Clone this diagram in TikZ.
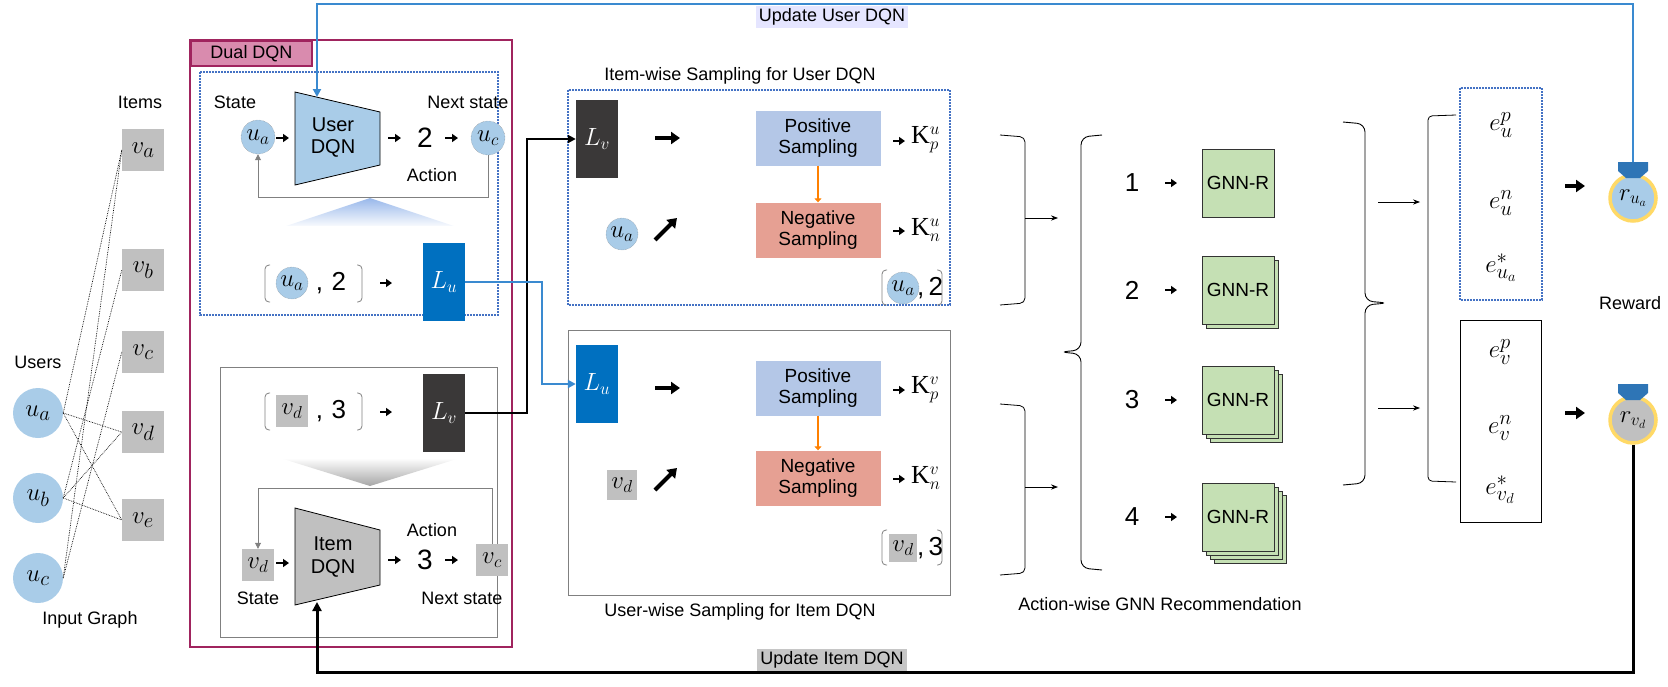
\documentclass[tikz,border=0pt]{standalone}
\usepackage{fontspec}
\setmainfont{Liberation Sans}
\newfontfamily\serifK{Liberation Serif}
\usetikzlibrary{arrows.meta,shapes.geometric}
\definecolor{ublue}{HTML}{A9CCE8}
\definecolor{igray}{HTML}{C0C0C0}
\definecolor{dotb}{HTML}{4472C4}
\definecolor{crim}{HTML}{A0245E}
\definecolor{pinkf}{HTML}{D98BAE}
\definecolor{lub}{HTML}{0070C0}
\definecolor{lvb}{HTML}{3A3838}
\definecolor{posf}{HTML}{B4C7E7}
\definecolor{negf}{HTML}{E6A093}
\definecolor{gnnf}{HTML}{C5E0B4}
\definecolor{linkb}{HTML}{3A8AD0}
\definecolor{medb}{HTML}{2E75B6}
\definecolor{medy}{HTML}{FFD966}
\newcommand{\Kmk}[2]{{\serifK K}$_{#1}^{#2}$}
\begin{document}
\begin{tikzpicture}[x=1pt,y=-1pt,
 every node/.style={font=\fontsize{18}{20}\selectfont},
 ucirc/.style={circle,fill=ublue,draw=gray,densely dotted,inner sep=0pt,minimum size=#1},
 ibox/.style={fill=igray,inner sep=0pt,minimum size=#1},
 sarr/.style={line width=2.5pt,-{Triangle[length=6pt,width=8pt]}},
 barr/.style={line width=4pt,-{Triangle[length=9pt,width=12pt]}},
 thin arr/.style={-{Stealth[length=7pt]},line width=0.8pt},
 samp/.style={minimum width=125pt,minimum height=55pt,align=center,inner sep=0pt,font=\fontsize{19}{21}\selectfont},
 gnn/.style={draw=black!80,fill=gnnf,minimum width=72pt,minimum height=68pt,inner sep=0pt,font=\fontsize{19}{21}\selectfont},
 lbox/.style={minimum width=42pt,minimum height=78pt,inner sep=0pt,text=white,font=\fontsize{26}{28}\selectfont},
 ebox/.style={font=\fontsize{28}{30}\selectfont,inner sep=1pt},
 mathbig/.style={font=\fontsize{32}{34}\selectfont},
 msmall/.style={font=\fontsize{24}{26}\selectfont},
 kst/.style={font=\fontsize{26}{28}\selectfont,inner sep=1pt},
 gedge/.style={densely dotted,line width=0.7pt}]
\useasboundingbox (0,0) rectangle (1668,686);
% ---------------- input graph
\node at (38,362) {Users};
\node at (140,102) {Items};
\node[ucirc=50pt,solid,draw=none,mathbig] (ua) at (38,413) {$u_a$};
\node[ucirc=50pt,solid,draw=none,mathbig] (ub) at (38,498) {$u_b$};
\node[ucirc=50pt,solid,draw=none,mathbig] (uc) at (38,578) {$u_c$};
\node[ibox=42pt,mathbig] (va) at (143,150) {$v_a$};
\node[ibox=42pt,mathbig] (vb) at (143,270) {$v_b$};
\node[ibox=42pt,mathbig] (vc) at (143,352) {$v_c$};
\node[ibox=42pt,mathbig] (vd) at (143,432) {$v_d$};
\node[ibox=42pt,mathbig] (ve) at (143,520) {$v_e$};
\foreach \a/\b in {ua/va,ua/vd,ub/vb,ub/vd,ub/ve,uc/va,uc/vc,ua/ve}
  \draw[gedge] (\a.east) -- (\b.west);
\node at (90,620) {Input Graph};
% ---------------- dual DQN
\draw[crim,line width=2pt] (190,40) rectangle (512,647);
\node[draw=crim,line width=2pt,fill=pinkf,anchor=north west,minimum width=121pt,minimum height=25pt,inner sep=0pt] (dual) at (190,40) {Dual DQN};
\draw[dotb,line width=2pt,densely dotted] (200,72) rectangle (498,315);
% user DQN
\node at (235,102) {State};
\node[ucirc=34pt,msmall] (s1) at (258,137) {$u_a$};
\coordinate (t1a) at (295,92); \coordinate (t1b) at (380,112);
\coordinate (t1c) at (380,165); \coordinate (t1d) at (295,185);
\draw[fill=ublue,line width=0.8pt] (t1a)--(t1b)--(t1c)--(t1d)--cycle;
\node[align=center,font=\fontsize{20}{22}\selectfont] (udqn) at (333,138) {User\\DQN};
\node[font=\fontsize{28}{30}\selectfont] (a2) at (425,138) {2};
\node[ucirc=34pt,msmall] (s2) at (488,138) {$u_c$};
\node at (468,102) {Next state};
\node at (432,175) {Action};
\draw[sarr] (276,138) -- (289,138);
\draw[sarr] (388,138) -- (401,138);
\draw[sarr] (445,138) -- (458,138);
\draw[gray,line width=0.8pt,-{Triangle[length=6pt,width=6pt]}] (s2.south) |- (258,197) -- (s1.south);
\shade[top color=ublue!90!blue,bottom color=white] (370,198) -- (460,228) -- (280,228) -- cycle;
\fill[white] (270,226) rectangle (470,232);
% [u_a,2] -> L_u
\draw[gray,line width=0.8pt,rounded corners=4pt] (270,265)--(265,265)--(265,302)--(270,302);
\draw[gray,line width=0.8pt,rounded corners=4pt] (357,265)--(362,265)--(362,302)--(357,302);
\node[ucirc=32pt,msmall] (u3) at (292,283) {$u_a$};
\node[font=\fontsize{26}{28}\selectfont] at (331,283) {,\,\,2};
\draw[sarr] (380,283) -- (392,283);
\node[lbox,fill=lub] (Lu) at (444,282) {$L_u$};
% item DQN
\draw[gray,line width=0.8pt] (220,367) rectangle (497,637);
\draw[gray,line width=0.8pt,rounded corners=4pt] (270,393)--(265,393)--(265,430)--(270,430);
\draw[gray,line width=0.8pt,rounded corners=4pt] (357,393)--(362,393)--(362,430)--(357,430);
\node[ibox=32pt,msmall] (vd1) at (292,411) {$v_d$};
\node[font=\fontsize{26}{28}\selectfont] at (331,411) {,\,\,3};
\draw[sarr] (380,412) -- (392,412);
\node[lbox,fill=lvb] (Lv) at (444,413) {$L_v$};
\shade[top color=white,bottom color=gray!70] (280,458) -- (460,458) -- (370,486) -- cycle;
\node[ibox=32pt,msmall] (vd2) at (258,565) {$v_d$};
\coordinate (t2a) at (295,508); \coordinate (t2b) at (380,530);
\coordinate (t2c) at (380,585); \coordinate (t2d) at (295,605);
\draw[fill=igray,line width=0.8pt] (t2a)--(t2b)--(t2c)--(t2d)--cycle;
\node[align=center,font=\fontsize{20}{22}\selectfont] (idqn) at (333,557) {Item\\DQN};
\node[font=\fontsize{28}{30}\selectfont] (a3) at (425,560) {3};
\node[ibox=32pt,msmall] (vc2) at (492,560) {$v_c$};
\node at (432,530) {Action};
\node at (258,598) {State};
\node at (462,598) {Next state};
\draw[sarr] (276,563) -- (289,563);
\draw[sarr] (388,560) -- (401,560);
\draw[sarr] (445,560) -- (458,560);
\draw[gray,line width=0.8pt,-{Triangle[length=6pt,width=6pt]}] (vc2.north) |- (258,488) -- (vd2.north);
% ---------------- sampling boxes
\draw[dotb,line width=2pt,densely dotted] (568,90) rectangle (950,305);
\node at (740,76) {Item-wise Sampling for User DQN};
\node[lbox,fill=lvb] (Lv2) at (597,139) {$L_v$};
\node[samp,fill=posf] (pos1) at (818,138) {Positive\\Sampling};
\node[samp,fill=negf] (neg1) at (818,230) {Negative\\Sampling};
\draw[barr] (655,138) -- (680,138);
\draw[barr] (655,240) -- (677,218);
\draw[orange,line width=2.5pt,-{Triangle[length=4pt,width=7pt]}] (pos1.south) -- (neg1.north);
\node[ucirc=32pt,msmall] (u4) at (622,234) {$u_a$};
\draw[sarr] (893,141) -- (905,141);
\draw[sarr] (893,231) -- (905,231);
\node[kst,anchor=west] (kpu) at (910,140) {\Kmk{p}{u}};
\node[kst,anchor=west] (knu) at (910,230) {\Kmk{n}{u}};
\draw[gray,line width=0.8pt,rounded corners=4pt] (887,270)--(882,270)--(882,305)--(887,305);
\draw[gray,line width=0.8pt,rounded corners=4pt] (937,270)--(942,270)--(942,305)--(937,305);
\node[ucirc=32pt,msmall] at (903,288) {$u_a$};
\node[font=\fontsize{26}{28}\selectfont] at (930,288) {,\,2};
%
\draw[gray,line width=0.8pt] (568,330) rectangle (950,595);
\node at (740,612) {User-wise Sampling for Item DQN};
\node[lbox,fill=lub] (Lu2) at (597,384) {$L_u$};
\node[samp,fill=posf] (pos2) at (818,388) {Positive\\Sampling};
\node[samp,fill=negf] (neg2) at (818,478) {Negative\\Sampling};
\draw[barr] (655,388) -- (680,388);
\draw[barr] (655,490) -- (677,468);
\draw[orange,line width=2.5pt,-{Triangle[length=4pt,width=7pt]}] (pos2.south) -- (neg2.north);
\node[ibox=30pt,msmall] (vd3) at (622,485) {$v_d$};
\draw[sarr] (893,390) -- (905,390);
\draw[sarr] (893,479) -- (905,479);
\node[kst,anchor=west] (kpv) at (910,390) {\Kmk{p}{v}};
\node[kst,anchor=west] (knv) at (910,478) {\Kmk{n}{v}};
\draw[gray,line width=0.8pt,rounded corners=4pt] (887,530)--(882,530)--(882,565)--(887,565);
\draw[gray,line width=0.8pt,rounded corners=4pt] (937,530)--(942,530)--(942,565)--(937,565);
\node[ibox=28pt,msmall] at (903,548) {$v_d$};
\node[font=\fontsize{26}{28}\selectfont] at (930,548) {,\,3};
% cross connectors
\draw[line width=2pt,-{Triangle[length=8pt,width=8pt]}] (Lv.east) -- (527,413) |- (Lv2.west);
\draw[linkb,line width=2pt,-{Triangle[length=8pt,width=8pt]}] (Lu.east) -- (542,282) |- (Lu2.west);
% ---------------- right brackets
\draw[line width=0.8pt,rounded corners=5pt] (1000,135) -- (1025,137) -- (1025,303) -- (1000,305);
\draw[thin arr] (1025,218) -- (1058,218);
\draw[line width=0.8pt,rounded corners=5pt] (1000,404) -- (1025,406) -- (1025,573) -- (1000,575);
\draw[thin arr] (1025,487) -- (1058,487);
\draw[line width=0.9pt,rounded corners=8pt] (1102,135) -- (1081,137) -- (1081,350) -- (1060,352) -- (1081,354) -- (1081,568) -- (1102,570);
% GNN-R
\foreach \n/\y/\k in {1/183/0,2/290/1,3/400/2,4/517/3}{
  \node[font=\fontsize{26}{28}\selectfont] (num\n) at (1132,\y) {\n};
  \draw[sarr] (1165,\y) -- (1177,\y);
  \foreach \j in {\k,...,1}{\ifnum\k>0 \node[gnn] at (1238+4*\j,\y+4*\j) {};\fi}
  \node[gnn] (g\n) at (1238,\y) {GNN-R};
}
\draw[line width=0.9pt,rounded corners=8pt] (1343,122) -- (1365,124) -- (1365,301) -- (1388,303) -- (1365,305) -- (1365,483) -- (1343,485);
\draw[thin arr] (1378,202) -- (1420,202);
\draw[thin arr] (1378,408) -- (1420,408);
\draw[line width=0.8pt,rounded corners=4pt] (1456,115) -- (1428,116) -- (1428,481) -- (1456,482);
% e boxes
\draw[dotb,line width=2pt,densely dotted] (1460,88) rectangle (1542,300);
\draw[line width=0.8pt] (1460,320) rectangle (1541,522);
\node[ebox] (e1) at (1501,125) {$e_u^p$};
\node[ebox] (e2) at (1501,203) {$e_u^n$};
\node[ebox] (e3) at (1501,268) {$e_{u_a}^*$};
\node[ebox] (e4) at (1500,352) {$e_v^p$};
\node[ebox] (e5) at (1500,428) {$e_v^n$};
\node[ebox] (e6) at (1500,490) {$e_{v_d}^*$};
\draw[barr] (1565,186) -- (1585,186);
\draw[barr] (1565,413) -- (1585,413);
% medals
\node[circle,fill=ublue,draw=medy,line width=3.5pt,minimum size=46pt,inner sep=0pt,msmall] (r1) at (1633,198) {$r_{u_a}$};
\fill[medb] (1618,162) -- (1648,162) -- (1648,171) -- (1640,178) -- (1626,178) -- (1618,171) -- cycle;
\node[circle,fill=igray,draw=medy,line width=3.5pt,minimum size=46pt,inner sep=0pt,msmall] (r2) at (1633,420) {$r_{v_d}$};
\fill[medb] (1618,384) -- (1648,384) -- (1648,393) -- (1640,400) -- (1626,400) -- (1618,393) -- cycle;
\node at (1630,303) {Reward};
% update lines
\draw[linkb,line width=2pt,-{Triangle[length=8pt,width=8pt]}] (1633,162) -- (1633,4) -| (317,97);
\node[fill=blue!10,inner sep=3pt] at (832,17) {Update User DQN};
\draw[line width=3pt,-{Triangle[length=9pt,width=9pt]}] (r2.south) -- (1633,672) -| (317,602);
\node[fill=gray!45,inner sep=3pt] at (832,660) {Update Item DQN};
\node at (1160,604) {Action-wise GNN Recommendation};
\end{tikzpicture}
\end{document}
